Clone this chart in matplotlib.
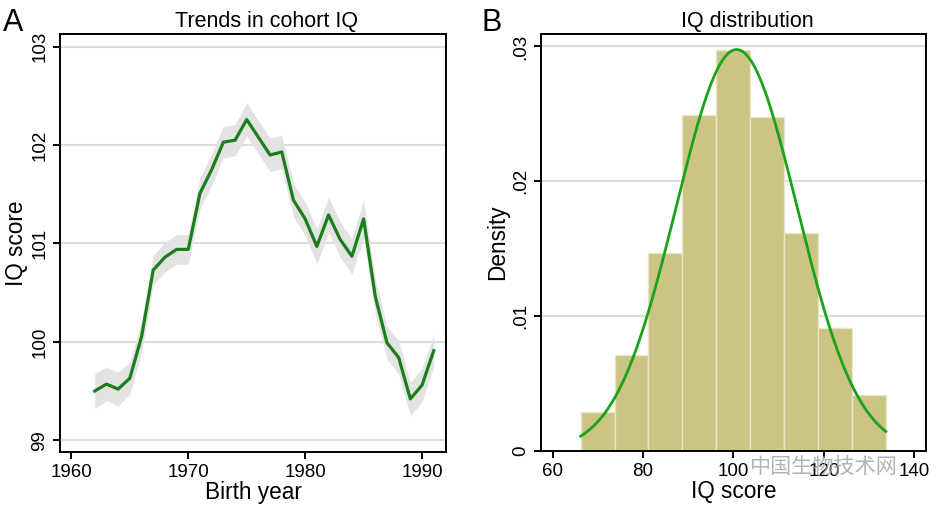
import numpy as np
import matplotlib
matplotlib.use("Agg")
import matplotlib.pyplot as plt

plt.rcParams['font.family'] = ['Liberation Sans', 'DejaVu Sans']

# ---- Panel A data ----
years = list(range(1962, 1992))
iq_mean = [99.50, 99.57, 99.52, 99.63, 100.05, 100.73, 100.86, 100.94, 100.94, 101.51,
           101.75, 102.03, 102.05, 102.26, 102.08, 101.90, 101.93, 101.44, 101.25, 100.97,
           101.29, 101.04, 100.87, 101.25, 100.46, 99.99, 99.84, 99.42, 99.56, 99.91]
iq_ci = [0.18, 0.17, 0.17, 0.16, 0.16, 0.15, 0.15, 0.15, 0.15, 0.16,
         0.16, 0.16, 0.16, 0.17, 0.17, 0.17, 0.17, 0.17, 0.17, 0.18,
         0.18, 0.18, 0.18, 0.19, 0.18, 0.17, 0.17, 0.17, 0.17, 0.17]

# ---- Panel B data ----
bin_start = 66.2
bin_width = 7.5
density = [0.00285, 0.00708, 0.01465, 0.02493, 0.02975, 0.0248, 0.01614, 0.00913, 0.00411]
fit_mean = 100.7
fit_sd = 13.4

fig = plt.figure(figsize=(9.38, 5.09), dpi=100)

lw_sp = 1.4
def style(ax):
    for s in ax.spines.values():
        s.set_linewidth(lw_sp)
        s.set_color('black')
    ax.tick_params(axis='both', direction='out', length=5, width=lw_sp, labelsize=13.5, colors='black')
    ax.set_axisbelow(True)
    ax.yaxis.grid(True, color='#dcdcdc', linewidth=1.5)
    ax.xaxis.grid(False)
    for lab in ax.get_yticklabels():
        lab.set_rotation(90)
        lab.set_va('center')

# Panel A
axA = fig.add_axes([0.064, 0.112, 0.4115, 0.8212])
lo = [m - c for m, c in zip(iq_mean, iq_ci)]
hi = [m + c for m, c in zip(iq_mean, iq_ci)]
axA.fill_between(years, lo, hi, color='#e3e3e3', linewidth=0, zorder=2)
axA.plot(years, iq_mean, color='#1a7f1a', linewidth=2.3, zorder=3)
axA.set_xlim(1959.03, 1992.05)
axA.set_ylim(98.88, 103.13)
axA.set_xticks([1960, 1970, 1980, 1990])
axA.set_yticks([99, 100, 101, 102, 103])
style(axA)
axA.set_xlabel('Birth year', fontsize=16.3, labelpad=0)
axA.set_ylabel('IQ score', fontsize=16.3, labelpad=2)
axA.set_title('Trends in cohort IQ', fontsize=15.5, x=0.534, pad=5)

# Panel B
axB = fig.add_axes([0.5764, 0.1145, 0.4108, 0.818])
edges = [bin_start + i * bin_width for i in range(len(density))]
axB.bar(edges, density, width=bin_width, align='edge', color='#cbc485',
        edgecolor='#e9e5c6', linewidth=1.0, zorder=2)
xs = np.linspace(bin_start, bin_start + bin_width * len(density), 300)
ys = np.exp(-0.5 * ((xs - fit_mean) / fit_sd) ** 2) / (fit_sd * np.sqrt(2 * np.pi))
axB.plot(xs, ys, color='#1aa31a', linewidth=2.0, zorder=3)
axB.set_xlim(57.35, 142.6)
axB.set_ylim(0, 0.0309)
axB.set_xticks([60, 80, 100, 120, 140])
axB.set_yticks([0, 0.01, 0.02, 0.03])
axB.set_yticklabels(['0', '.01', '.02', '.03'])
style(axB)
axB.set_xlabel('IQ score', fontsize=16.3, labelpad=0)
axB.set_ylabel('Density', fontsize=16.3, labelpad=2)
axB.set_title('IQ distribution', fontsize=15.5, x=0.537, pad=5)

# panel letters
fig.text(0.003, 0.985, 'A', fontsize=22, va='top', ha='left')
fig.text(0.513, 0.985, 'B', fontsize=22, va='top', ha='left')

# watermark
fig.text(0.799, (509 - 468) / 509, '中国生物技术网', fontsize=15.2, color='#a0a0a0', alpha=0.8,
         ha='left', va='center', family=['Noto Sans CJK SC', 'DejaVu Sans'])

fig.savefig('out.png', dpi=100)
